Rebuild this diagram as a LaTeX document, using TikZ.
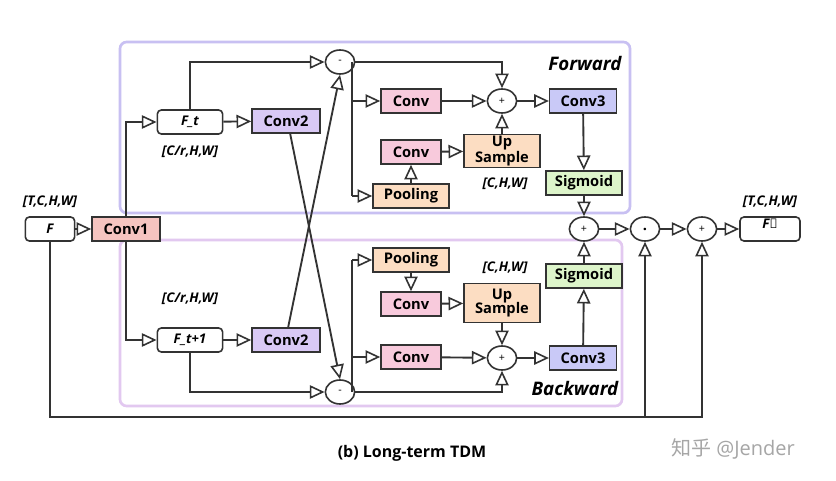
\documentclass[tikz,border=0pt]{standalone}
\usepackage{fontspec}
\setmainfont{Open Sans}
\newfontfamily\cjk{Noto Sans CJK SC}
\usetikzlibrary{arrows.meta,shapes.geometric}
\definecolor{cA}{HTML}{F5C4C0}
\definecolor{cB}{HTML}{D9C9F5}
\definecolor{cC}{HTML}{F8CADC}
\definecolor{cD}{HTML}{FCDDC2}
\definecolor{cE}{HTML}{C9C9F7}
\definecolor{cF}{HTML}{DDF5CA}
\definecolor{fr1}{HTML}{C8C0F2}
\definecolor{fr2}{HTML}{E2C8F0}
\definecolor{ln}{HTML}{333333}
\begin{document}
\begin{tikzpicture}[x=0.75pt,y=-0.75pt,
 line width=1.4pt, draw=ln,
 >={Triangle[open,length=11pt,width=10pt,line width=1.2pt]},
 box/.style={draw=ln,line width=1.2pt,minimum height=18pt,font=\bfseries\fontsize{11}{12}\selectfont,inner sep=1pt},
 rbox/.style={draw=ln,line width=1.2pt,rounded corners=3pt,fill=white,minimum height=18pt,font=\bfseries\itshape\fontsize{10}{11}\selectfont},
 op/.style={draw=ln,line width=1.2pt,ellipse,minimum width=22pt,minimum height=18pt,inner sep=0pt,fill=white,font=\fontsize{8}{8}\selectfont},
 lab/.style={font=\bfseries\itshape\fontsize{10}{11}\selectfont}]
\useasboundingbox (0,0) rectangle (836,481);
\fill[white] (0,0) rectangle (836,481);
\draw[fr1,line width=2pt,rounded corners=5pt] (120,42) rectangle (630,213);
\draw[fr2,line width=2pt,rounded corners=5pt] (120,240) rectangle (622,406);
\begin{scope}[draw=ln]
% left
\node[rbox,minimum width=37pt] (F) at (50,229) {F};
\node[lab] (l1) at (50,202) {[T,C,H,W]};
\node[box,fill=cA,minimum width=51pt] (c1) at (126,229) {Conv1};
\node[rbox,minimum width=49pt] (ft) at (190,122) {F\_t};
\node[rbox,minimum width=49pt] (ft1) at (190,340) {F\_t+1};
\node[lab] (l2) at (190,152) {[C/r,H,W]};
\node[lab] (l3) at (190,299) {[C/r,H,W]};
\node[box,fill=cB,minimum width=51pt] (c2a) at (286,121) {Conv2};
\node[box,fill=cB,minimum width=51pt] (c2b) at (286,340) {Conv2};
\node[op] (ma) at (340,62) {-};
\node[op] (mb) at (340,392) {-};
% forward
\node[box,fill=cC,minimum width=45pt] (cva) at (411,101) {Conv};
\node[box,fill=cC,minimum width=45pt] (cwa) at (411,152) {Conv};
\node[box,fill=cD,minimum width=57pt] (pa) at (411,196) {Pooling};
\node[box,fill=cD,minimum width=57pt,minimum height=25pt,align=center,font=\bfseries\fontsize{11}{10}\selectfont] (ua) at (502,151) {Up\\Sample};
\node[lab] (l4) at (505,184) {[C,H,W]};
\node[op] (pla) at (502,101) {+};
\node[box,fill=cE,minimum width=50pt] (c3a) at (583,101) {Conv3};
\node[box,fill=cF,minimum width=57pt] (sa) at (584,183) {Sigmoid};
\node[font=\bfseries\itshape\fontsize{14}{14}\selectfont] (fw) at (585,64) {Forward};
% backward
\node[box,fill=cD,minimum width=57pt] (pb) at (411,260) {Pooling};
\node[box,fill=cC,minimum width=45pt] (cwb) at (411,304) {Conv};
\node[box,fill=cC,minimum width=45pt] (cvb) at (411,357) {Conv};
\node[box,fill=cD,minimum width=57pt,minimum height=29pt,align=center,font=\bfseries\fontsize{11}{11}\selectfont] (ub) at (502,303) {Up\\Sample};
\node[lab] (l5) at (505,268) {[C,H,W]};
\node[op] (plb) at (502,358) {+};
\node[box,fill=cE,minimum width=50pt] (c3b) at (583,358) {Conv3};
\node[box,fill=cF,minimum width=57pt] (sb) at (584,276) {Sigmoid};
\node[font=\bfseries\itshape\fontsize{14}{14}\selectfont] (bw) at (575,388) {Backward};
% right
\node[op] (pm) at (584,229) {+};
\node[op,font=\bfseries\fontsize{11}{10}\selectfont] (dt) at (645,229) {.};
\node[op] (pr) at (702,229) {+};
\node[rbox,minimum width=45pt,inner sep=0pt] (Fh) at (770,229) {\raisebox{0pt}[0pt][0pt]{\^{F}}};
\node[lab] (l6) at (770,202) {[T,C,H,W]};
% edges
\draw[->] (F) -- (c1);
\draw[->] (c1.north) |- (ft);
\draw[->] (c1.south) |- (ft1);
\draw[->] (ft) -- (c2a);
\draw[->] (ft1) -- (c2b);
\draw[->] (ft.north) |- (ma);
\draw[->] (ft1.south) |- (mb);
\draw[->] (290,133) -- (mb.north);
\draw[->] (288,328) -- (ma.south);
\coordinate (ja) at (352,62);
\coordinate (jb) at (352,392);
\draw[->] (ma.east) -| (pla.north);
\draw (ja) -- (352,196);
\draw[->] (352,101) -- (cva);
\draw[->] (352,196) -- (pa);
\draw[->] (pa) -- (cwa);
\draw[->] (cwa) -- (ua);
\draw[->] (ua) -- (pla);
\draw[->] (cva) -- (pla);
\draw[->] (pla) -- (c3a);
\draw[->] (c3a) -- (sa);
\draw[->] (sa) -- (pm);
\draw (jb) -- (352,260);
\draw[->] (352,260) -- (pb);
\draw[->] (352,357) -- (cvb);
\draw[->] (pb) -- (cwb);
\draw[->] (cwb) -- (ub);
\draw[->] (ub) -- (plb);
\draw[->] (cvb) -- (plb);
\draw[->] (mb.east) -| (plb.south);
\draw[->] (plb) -- (c3b);
\draw[->] (c3b) -- (sb);
\draw[->] (sb) -- (pm);
\draw[->] (pm) -- (dt);
\draw[->] (dt) -- (pr);
\draw[->] (pr) -- (Fh);
\coordinate (fb) at (702,417);
\draw[->] (F.south) |- (fb) -- (pr.south);
\draw[->] (645,417) -- (dt.south);
\end{scope}
\node[font=\bfseries\fontsize{12}{13}\selectfont] (cap) at (412,453) {(b) Long-term TDM};
\node[text=gray!70,font=\fontsize{15}{16}\selectfont] (wm) at (733,449) {{\cjk 知乎} @Jender};
\end{tikzpicture}
\end{document}
